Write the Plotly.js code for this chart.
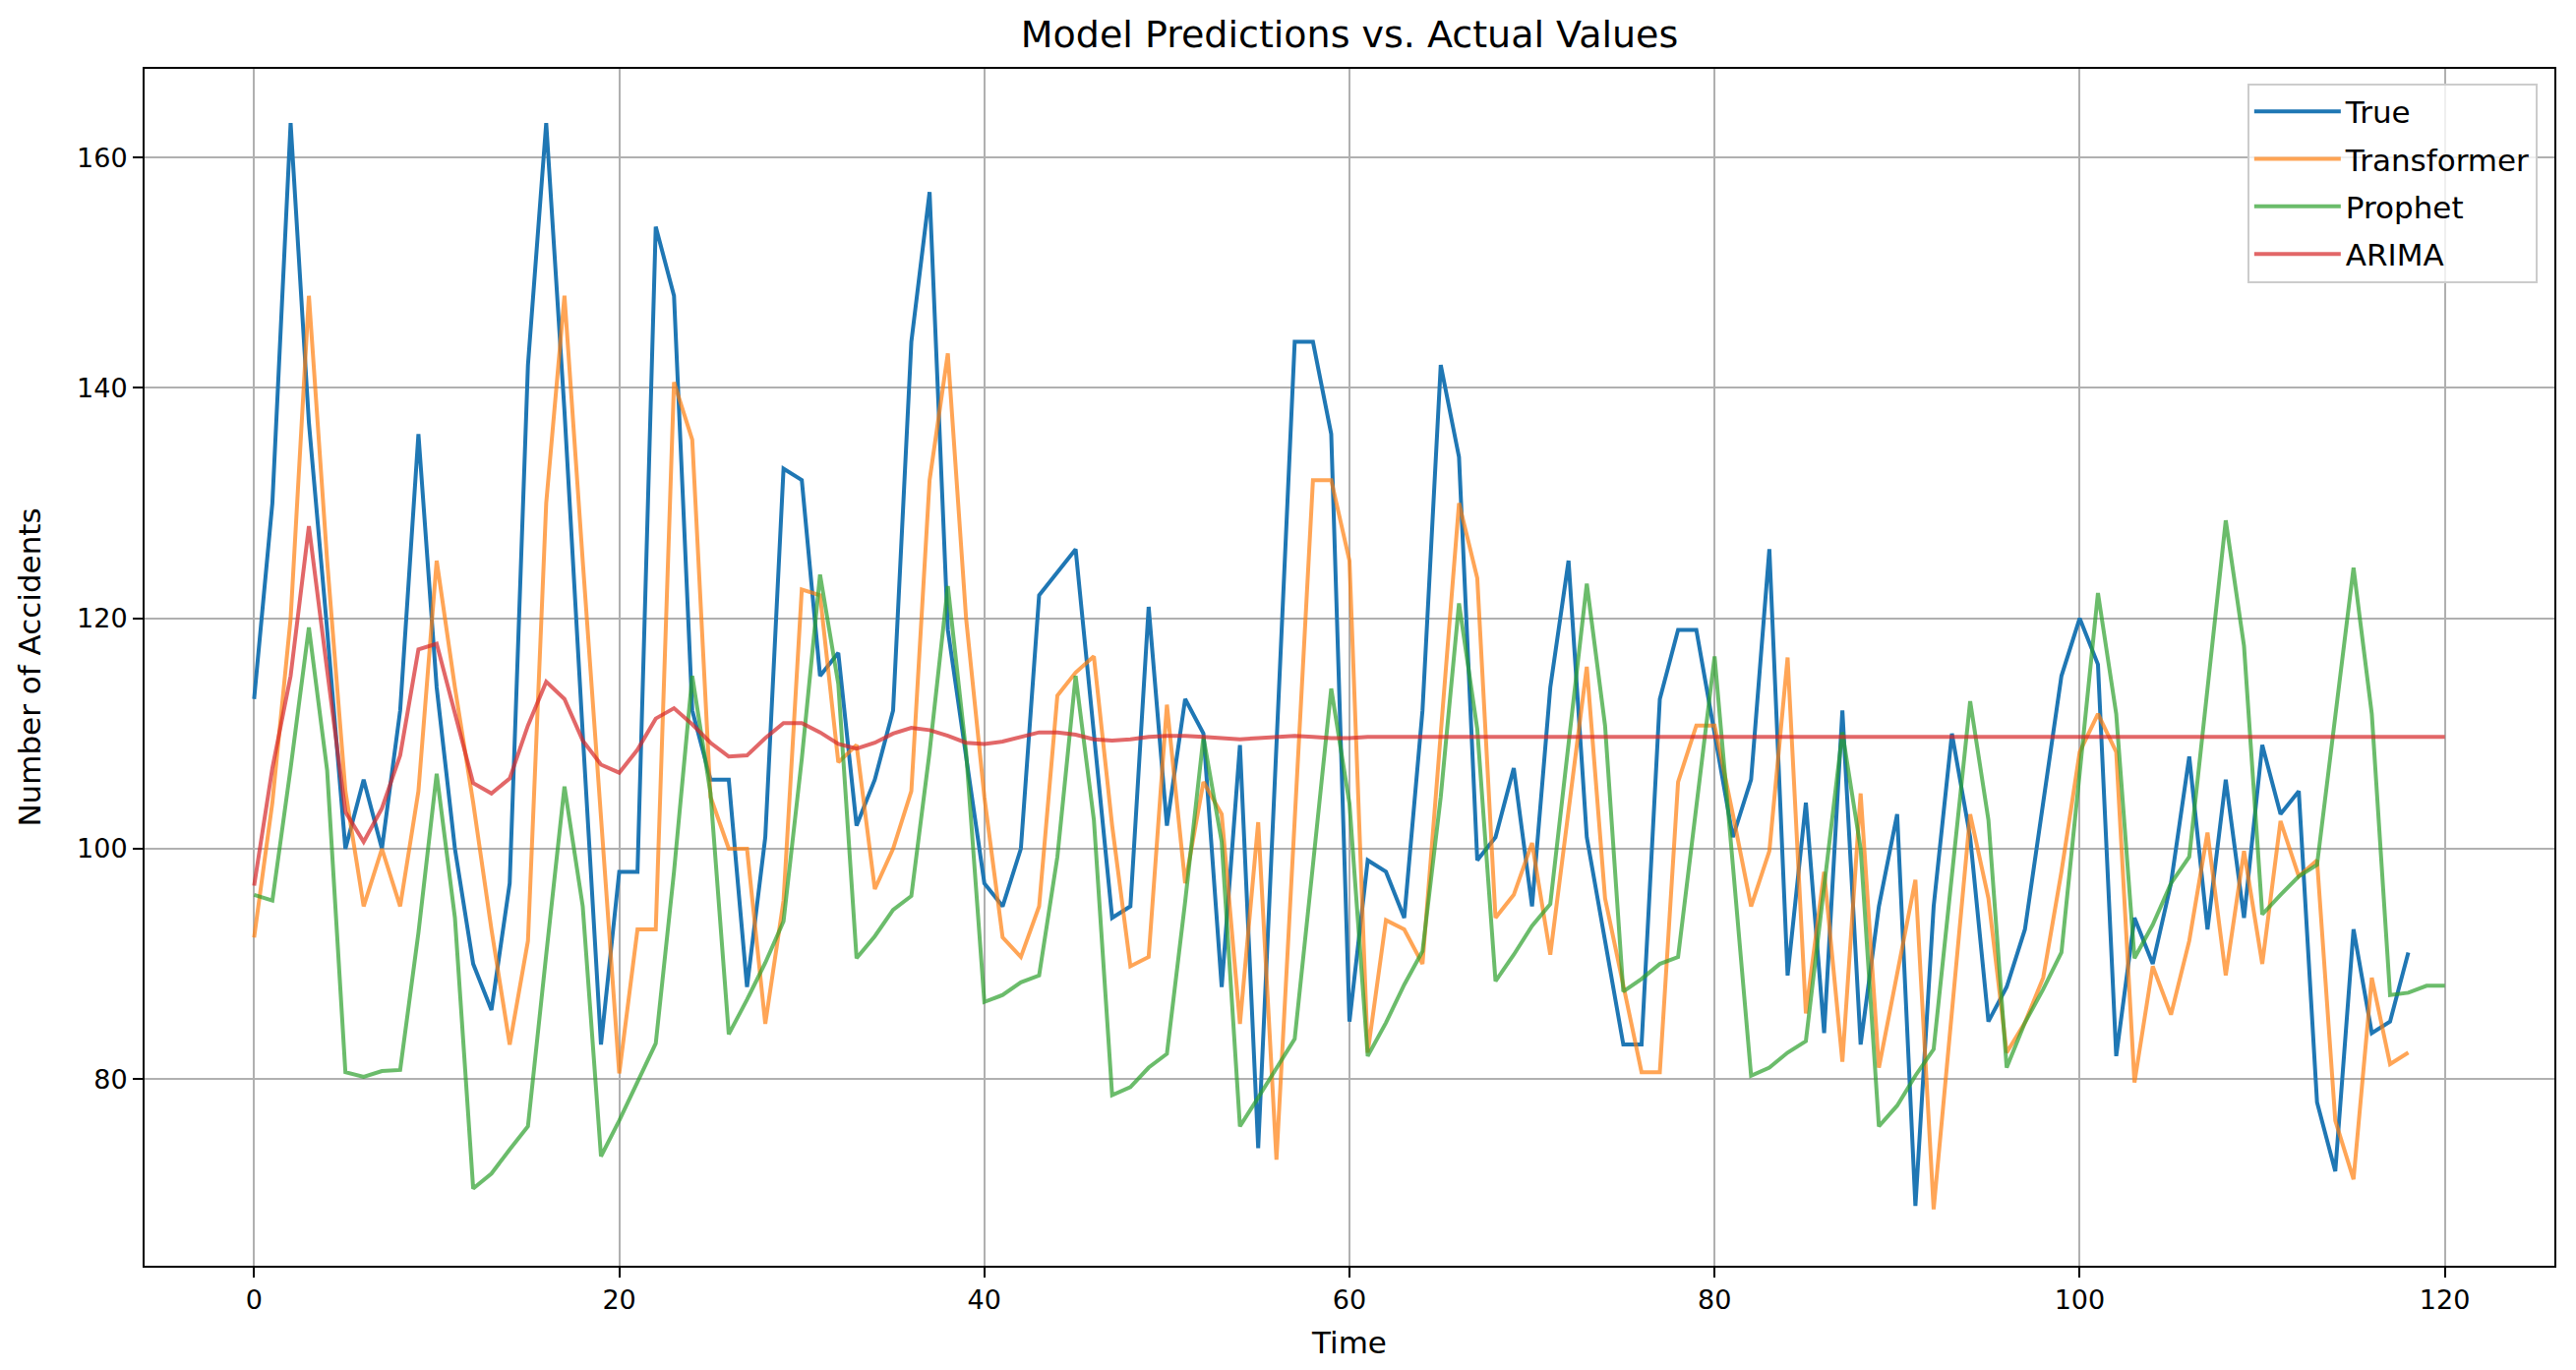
<!DOCTYPE html>
<html>
<head>
<meta charset="utf-8">
<script src="https://cdn.plot.ly/plotly-3.0.1.min.js"></script>
<style>
  body { margin: 0; background: #fff; }
  #chart { width: 2619px; height: 1393px; }
</style>
</head>
<body>
<div id="chart"></div>
<script>
// values
const trueVals = [113, 130, 163, 137, 119, 100, 106, 100, 112, 136,
  114, 100, 90, 86, 97, 142, 163, 138, 110, 83,
  98, 98, 154, 148, 112, 106, 106, 88, 101, 133,
  132, 115, 117, 102, 106, 112, 144, 157, 119, 108,
  97, 95, 100, 122, 124, 126, 110, 94, 95, 121,
  102, 113, 110, 88, 109, 74, 109, 144, 144, 136,
  85, 99, 98, 94, 112, 142, 134, 99, 101, 107,
  95, 114, 125, 101, 92, 83, 83, 113, 119, 119,
  110, 101, 106, 126, 89, 104, 84, 112, 83, 95,
  103, 69, 95, 110, 101, 85, 88, 93, 104, 115,
  120, 116, 82, 94, 90, 97, 108, 93, 106, 94,
  109, 103, 105, 78, 72, 93, 84, 85, 91];

const transformerVals = [92.3, 104, 120, 148, 125, 105, 95, 100, 95, 105,
  125, 114, 104, 93, 83, 92, 130, 148, 125, 103,
  80.5, 93, 93, 140.5, 135.5, 104.5, 100, 100, 84.8, 95.5,
  122.5, 122, 107.5, 109, 96.5, 100, 105, 132, 143, 120,
  104.5, 92.3, 90.6, 95, 113.3, 115.3, 116.7, 102, 89.8, 90.6,
  112.5, 97, 105.8, 103, 84.8, 102.3, 73, 102.5, 132, 132,
  125, 82.3, 93.8, 93, 90, 110, 130, 123.5, 94, 96,
  100.5, 90.8, 103.3, 115.8, 95.7, 88.2, 80.6, 80.6, 105.8, 110.7,
  110.7, 103, 95, 99.8, 116.6, 85.7, 98, 81.5, 104.8, 81,
  89.2, 97.3, 68.7, 86, 103, 95.7, 82.3, 84.9, 88.8, 98,
  108.4, 111.7, 108.4, 79.7, 89.8, 85.6, 92, 101.4, 89, 99.8,
  90, 102.4, 97.6, 99, 76.4, 71.3, 88.8, 81.3, 82.3];

const prophetVals = [96, 95.5, 107, 119.2, 106.8, 80.6, 80.2, 80.7, 80.8, 92.7,
  106.5, 94, 70.5, 71.8, 73.9, 75.9, 90.8, 105.4, 95, 73.3,
  76.4, 79.8, 83.1, 98, 115, 104.8, 83.9, 86.9, 90.1, 93.7,
  107.8, 123.8, 114.3, 90.5, 92.4, 94.7, 95.9, 108.4, 122.8, 108.4,
  86.7, 87.3, 88.4, 89, 99.3, 115, 102.5, 78.6, 79.3, 81,
  82.2, 95.4, 109.7, 100.6, 75.9, 78.4, 81, 83.5, 98.6, 113.9,
  103.9, 82, 84.9, 88.2, 91.1, 104.5, 121.3, 110.4, 88.5, 90.8,
  93.3, 95.2, 109.1, 123, 110.7, 87.6, 88.7, 90, 90.6, 103.9,
  116.7, 98.6, 80.3, 81, 82.3, 83.3, 96.7, 110.1, 100, 75.9,
  77.7, 80.3, 82.6, 97.8, 112.8, 102.5, 81, 84.9, 87.8, 91,
  107, 122.2, 111.7, 90.5, 93.4, 97, 99.3, 113.7, 128.5, 117.6,
  94.3, 96, 97.6, 98.6, 111.5, 124.4, 111.7, 87.3, 87.5, 88.1,
  88.1];

const arimaVals = [96.8, 107, 115, 128, 115.5, 103.2, 100.6, 103.5, 108.1, 117.3,
  117.8, 111.7, 105.7, 104.8, 106.1, 110.7, 114.5, 113, 109.4, 107.3,
  106.6, 108.6, 111.3, 112.2, 110.8, 109.2, 108, 108.1, 109.6, 110.9,
  110.9, 110.1, 109.1, 108.7, 109.2, 110, 110.5, 110.3, 109.8, 109.2,
  109.1, 109.3, 109.7, 110.1, 110.1, 109.9, 109.5, 109.4, 109.5, 109.7,
  109.8, 109.8, 109.7, 109.6, 109.5, 109.6, 109.7, 109.8, 109.7, 109.6,
  109.6, 109.7, 109.7, 109.7, 109.7, 109.7, 109.7, 109.7, 109.7, 109.7,
  109.7, 109.7, 109.7, 109.7, 109.7, 109.7, 109.7, 109.7, 109.7, 109.7,
  109.7, 109.7, 109.7, 109.7, 109.7, 109.7, 109.7, 109.7, 109.7, 109.7,
  109.7, 109.7, 109.7, 109.7, 109.7, 109.7, 109.7, 109.7, 109.7, 109.7,
  109.7, 109.7, 109.7, 109.7, 109.7, 109.7, 109.7, 109.7, 109.7, 109.7,
  109.7, 109.7, 109.7, 109.7, 109.7, 109.7, 109.7, 109.7, 109.7, 109.7,
  109.7];

const seriesNames = ["True", "Transformer", "Prophet", "ARIMA"];
const seriesColors = ["#1f77b4", "#ff7f0e", "#2ca02c", "#d62728"];
const seriesOpacity = [1, 0.7, 0.7, 0.7];

const allVals = [trueVals, transformerVals, prophetVals, arimaVals];
const traces = allVals.map((vals, i) => ({
  x: vals.map((_, k) => k),
  y: vals,
  name: seriesNames[i],
  legendgroup: seriesNames[i],
  type: "scatter",
  mode: "lines",
  opacity: seriesOpacity[i],
  line: { color: seriesColors[i], width: 4 }
}));

const axisStyle = {
  showgrid: true,
  gridcolor: "#b0b0b0",
  gridwidth: 2,
  showline: true,
  linecolor: "#000",
  linewidth: 2,
  mirror: true,
  ticks: "outside",
  ticklen: 10,
  tickwidth: 2,
  tickcolor: "#000",
  zeroline: false,
  tickfont: { size: 27, color: "#000" }
};

const layout = {
  width: 2619,
  height: 1393,
  font: { family: "DejaVu Sans", color: "#000" },
  paper_bgcolor: "#fff",
  plot_bgcolor: "#fff",
  margin: { l: 147, r: 22, t: 70, b: 106 },
  title: {
    text: "Model Predictions vs. Actual Values",
    font: { size: 38 },
    xref: "paper", x: 0.5,
    yref: "container", y: 0.975, yanchor: "middle"
  },
  xaxis: Object.assign({}, axisStyle, {
    range: [-6, 126],
    tickvals: [0, 20, 40, 60, 80, 100, 120],
    title: { text: "Time", font: { size: 31 }, standoff: 18 }
  }),
  yaxis: Object.assign({}, axisStyle, {
    range: [63.8, 167.7],
    tickvals: [80, 100, 120, 140, 160],
    title: { text: "Number of Accidents", font: { size: 31 }, standoff: 27 }
  }),
  legend: {
    x: 0.993, xanchor: "right",
    y: 0.988, yanchor: "top",
    bgcolor: "rgba(255,255,255,0.8)",
    bordercolor: "#cccccc",
    borderwidth: 2,
    font: { size: 31 },
    traceorder: "grouped",
    tracegroupgap: 5,
    itemwidth: 88
  },
  showlegend: true
};

Plotly.newPlot("chart", traces, layout, { staticPlot: true });
</script>
</body>
</html>
